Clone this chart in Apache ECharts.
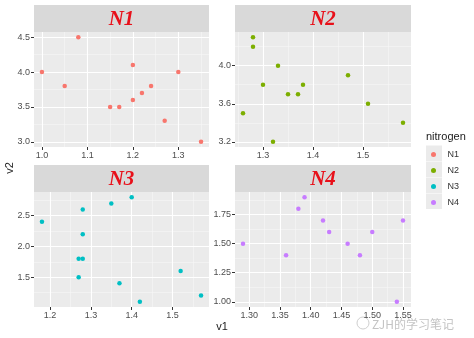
<!DOCTYPE html>
<html>
<head>
<meta charset="utf-8">
<script src="https://cdn.jsdelivr.net/npm/echarts@6/dist/echarts.min.js"></script>
<style>
html,body{margin:0;padding:0;background:#fff;}
#chart{width:474px;height:338px;}
</style>
</head>
<body>
<div id="chart"></div>
<script>
// ---- data ----
const categories = ['N1', 'N2', 'N3', 'N4'];
const n1X = [1.00, 1.05, 1.08, 1.15, 1.17, 1.20, 1.20, 1.22, 1.24, 1.27, 1.30, 1.35];
const n1Y = [4.0, 3.8, 4.5, 3.5, 3.5, 4.1, 3.6, 3.7, 3.8, 3.3, 4.0, 3.0];
const n2X = [1.26, 1.28, 1.28, 1.30, 1.32, 1.33, 1.35, 1.37, 1.38, 1.47, 1.51, 1.58];
const n2Y = [3.5, 4.3, 4.2, 3.8, 3.2, 4.0, 3.7, 3.7, 3.8, 3.9, 3.6, 3.4];
const n3X = [1.18, 1.27, 1.27, 1.28, 1.28, 1.28, 1.35, 1.37, 1.40, 1.42, 1.52, 1.57];
const n3Y = [2.4, 1.8, 1.5, 2.6, 2.2, 1.8, 2.7, 1.4, 2.8, 1.1, 1.6, 1.2];
const n4X = [1.29, 1.36, 1.38, 1.39, 1.42, 1.43, 1.46, 1.48, 1.50, 1.54, 1.55];
const n4Y = [1.5, 1.4, 1.8, 1.9, 1.7, 1.6, 1.5, 1.4, 1.6, 1.0, 1.7];
// tick labels
const n1XTicks = [1.0, 1.1, 1.2, 1.3];
const n1YTicks = [3.0, 3.5, 4.0, 4.5];
const n2XTicks = [1.3, 1.4, 1.5];
const n2YTicks = [3.2, 3.6, 4.0];
const n3XTicks = [1.2, 1.3, 1.4, 1.5];
const n3YTicks = [1.5, 2.0, 2.5];
const n4XTicks = [1.30, 1.35, 1.40, 1.45, 1.50, 1.55];
const n4YTicks = [1.00, 1.25, 1.50, 1.75];

const colors = ['#F8766D', '#7CAE00', '#00BFC4', '#C77CFF'];

const panels = [
  {name: 'N1', x: n1X, y: n1Y, xt: n1XTicks, yt: n1YTicks, xd: 1, yd: 1},
  {name: 'N2', x: n2X, y: n2Y, xt: n2XTicks, yt: n2YTicks, xd: 1, yd: 1},
  {name: 'N3', x: n3X, y: n3Y, xt: n3XTicks, yt: n3YTicks, xd: 1, yd: 1},
  {name: 'N4', x: n4X, y: n4Y, xt: n4XTicks, yt: n4YTicks, xd: 2, yd: 2}
];

// layout
const colLeft = [34, 235], colWidth = [175, 176];
const rowStripTop = [5, 165], stripH = 27, plotH = 115;

function expand(arr) {
  const lo = Math.min(...arr), hi = Math.max(...arr), d = (hi - lo) * 0.05;
  return [lo - d, hi + d];
}
function minors(ticks, range) {
  const step = ticks[1] - ticks[0];
  const out = [];
  for (let v = ticks[0] - step / 2; v <= range[1] + 1e-9; v += step) {
    if (v >= range[0] - 1e-9) out.push(+v.toFixed(6));
  }
  return out;
}
function gridLines(xs, ys, xr, yr) {
  return xs.map(v => ({coords: [[v, yr[0]], [v, yr[1]]]}))
    .concat(ys.map(v => ({coords: [[xr[0], v], [xr[1], v]]})));
}

const grids = [], xAxes = [], yAxes = [], series = [], graphics = [];
panels.forEach((p, i) => {
  const c = i % 2, r = Math.floor(i / 2);
  const gl = colLeft[c], gw = colWidth[c];
  const gt = rowStripTop[r] + stripH;
  grids.push({left: gl, top: gt, width: gw, height: plotH, show: true,
    backgroundColor: '#EBEBEB', borderWidth: 0, containLabel: false});
  const xr = expand(p.x), yr = expand(p.y);
  const common = {
    type: 'value', gridIndex: i, axisLine: {show: false},
    splitLine: {show: false}
  };
  xAxes.push(Object.assign({}, common, {
    min: xr[0], max: xr[1],
    axisTick: {show: true, length: 3, lineStyle: {color: '#333', width: 1}, customValues: p.xt},
    axisLabel: {customValues: p.xt, fontSize: 9, color: '#4D4D4D', margin: 4,
      fontFamily: 'Liberation Sans', formatter: v => v.toFixed(p.xd)}
  }));
  yAxes.push(Object.assign({}, common, {
    min: yr[0], max: yr[1],
    axisTick: {show: true, length: 3, lineStyle: {color: '#333', width: 1}, customValues: p.yt},
    axisLabel: {customValues: p.yt, fontSize: 9, color: '#4D4D4D', margin: 4,
      fontFamily: 'Liberation Sans', formatter: v => v.toFixed(p.yd)}
  }));
  const xm = minors(p.xt, xr), ym = minors(p.yt, yr);
  series.push({
    type: 'lines', coordinateSystem: 'cartesian2d', xAxisIndex: i, yAxisIndex: i,
    silent: true, z: 1, polyline: false, animation: false,
    lineStyle: {color: '#F7F7F7', width: 0.6, opacity: 1, curveness: 0},
    data: gridLines(xm, ym, xr, yr)
  });
  series.push({
    type: 'lines', coordinateSystem: 'cartesian2d', xAxisIndex: i, yAxisIndex: i,
    silent: true, z: 2, polyline: false, animation: false,
    lineStyle: {color: '#FFFFFF', width: 1.1, opacity: 1, curveness: 0},
    data: gridLines(p.xt, p.yt, xr, yr)
  });
  series.push({
    name: p.name, type: 'scatter', xAxisIndex: i, yAxisIndex: i, z: 3,
    symbol: 'circle', symbolSize: 4.5,
    itemStyle: {color: colors[i], opacity: 1},
    data: p.x.map((v, k) => [v, p.y[k]])
  });
  // strip
  graphics.push({type: 'rect', shape: {x: gl, y: rowStripTop[r], width: gw, height: stripH},
    style: {fill: '#D9D9D9'}, silent: true});
  graphics.push({type: 'text', x: gl + gw / 2, y: rowStripTop[r] + stripH / 2 + 1,
    style: {text: categories[i], fill: '#E8101A', font: 'italic bold 21px "Liberation Serif"',
      textAlign: 'center', textVerticalAlign: 'middle'}, silent: true});
});

// legend key backgrounds
categories.forEach((c, k) => {
  graphics.push({type: 'rect', shape: {x: 426, y: 145.5 + k * 16, width: 16, height: 15.5},
    style: {fill: '#EBEBEB'}, silent: true, z: -1});
});
graphics.push({type: 'text', x: 426, y: 137, style: {text: 'nitrogen', fill: '#1A1A1A',
  font: '11px "Liberation Sans"', textVerticalAlign: 'middle'}, silent: true});
graphics.push({type: 'text', x: 222, y: 327, style: {text: 'v1', fill: '#1A1A1A',
  font: '11px "Liberation Sans"', textAlign: 'center', textVerticalAlign: 'middle'}, silent: true});
graphics.push({type: 'text', x: 10, y: 168, rotation: Math.PI / 2, style: {text: 'v2', fill: '#1A1A1A',
  font: '11px "Liberation Sans"', textAlign: 'center', textVerticalAlign: 'middle'}, silent: true});
// watermark
graphics.push({type: 'circle', shape: {cx: 363, cy: 323, r: 6}, style: {fill: 'none', stroke: '#CFCFCF', lineWidth: 1}, silent: true});
graphics.push({type: 'text', x: 372, y: 324, style: {text: 'ZJH的学习笔记', fill: '#C4C4C4',
  font: '12px "Noto Sans CJK SC"', textVerticalAlign: 'middle', backgroundColor: 'rgba(255,255,255,0.6)'}, silent: true});

const chart = echarts.init(document.getElementById('chart'), null, {renderer: 'canvas'});
chart.setOption({
  animation: false,
  backgroundColor: '#FFFFFF',
  textStyle: {fontFamily: 'Liberation Sans'},
  grid: grids, xAxis: xAxes, yAxis: yAxes, series: series,
  legend: {
    show: true, orient: 'vertical', left: 431, top: 149, padding: 0,
    data: categories, icon: 'circle', itemWidth: 18, itemHeight: 5, itemGap: 5,
    textStyle: {fontSize: 9, color: '#333', fontFamily: 'Liberation Sans', lineHeight: 11},
    selectedMode: false
  },
  graphic: graphics
});
</script>
</body>
</html>
